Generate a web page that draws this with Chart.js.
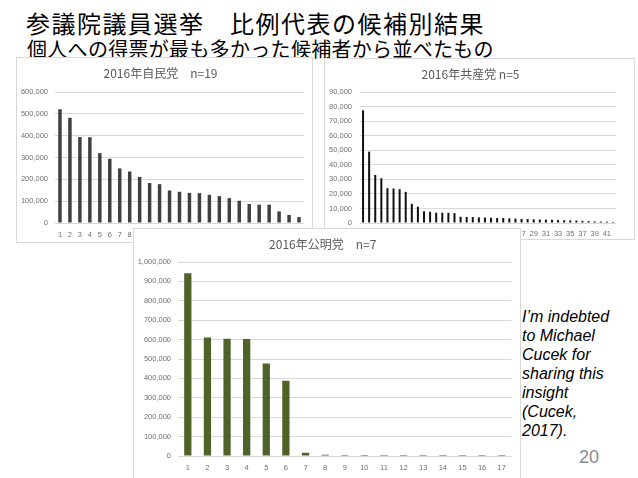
<!DOCTYPE html>
<html>
<head>
<meta charset="utf-8">
<script src="https://cdn.jsdelivr.net/npm/chart.js@4/dist/chart.umd.min.js"></script>
<style>
  html, body { margin: 0; padding: 0; background: #fff; }
  body { width: 638px; height: 478px; position: relative; overflow: hidden; }
  .t1 { position: absolute; left: 26px; top: 11px; font-family: "Noto Sans CJK JP", sans-serif; font-size: 24px; line-height: 24px; letter-spacing: 1.5px; color: #000; white-space: nowrap; }
  .t2 { position: absolute; left: 27px; top: 39px; font-family: "Noto Sans CJK JP", sans-serif; font-size: 20px; line-height: 20px; letter-spacing: 0.3px; color: #000; white-space: nowrap; }
  .box { position: absolute; background: #fff; border: 1px solid #d9d9d9; box-sizing: border-box; }
  .box canvas { display: block; }
  .note { position: absolute; left: 522px; top: 307px; font-family: "Liberation Sans", Arial, sans-serif; font-style: italic; font-size: 16px; line-height: 19px; color: #000; }
  .page { position: absolute; left: 579px; top: 448px; font-family: "Liberation Sans", Arial, sans-serif; font-size: 18px; line-height: 18px; color: #8a8a8a; }
</style>
</head>
<body>
<div class="t1">参議院議員選挙　比例代表の候補別結果</div>
<div class="t2">個人への得票が最も多かった候補者から並べたもの</div>

<div class="box" id="b1" style="left:16px; top:57px; width:297px; height:186px;"><canvas id="c1" width="295" height="184"></canvas></div>
<div class="box" id="b2" style="left:324px; top:58px; width:311px; height:182px;"><canvas id="c2" width="309" height="180"></canvas></div>
<div class="box" id="b3" style="left:133px; top:228px; width:388px; height:252px;"><canvas id="c3" width="386" height="250"></canvas></div>

<div class="note">I’m indebted<br>to Michael<br>Cucek for<br>sharing this<br>insight<br>(Cucek,<br>2017).</div>
<div class="page">20</div>

<script>
// ---- Data ----
const ldpTitle = "2016年自民党　n=19";
const ldpLabels = ["1","2","3","4","5","6","7","8","9","10","11","12","13","14","15","16","17","18","19","20","21","22","23","24","25"];
const ldpVotes = [521000, 482000, 394000, 393000, 320000, 294000, 250000, 236000, 211000, 183000, 178000, 149000, 143000, 138000, 137000, 129000, 123000, 114000, 102000, 87000, 84000, 84000, 53000, 37000, 27000];
const ldpTicks = { max: 600000, step: 100000 };

const jcpTitle = "2016年共産党 n=5";
const jcpLabels = ["1","2","3","4","5","6","7","8","9","10","11","12","13","14","15","16","17","18","19","20","21","22","23","24","25","26","27","28","29","30","31","32","33","34","35","36","37","38","39","40","41","42"];
const jcpVotes = [77400, 49000, 33000, 30700, 23900, 23700, 23200, 21400, 13200, 11200, 8000, 7700, 7100, 7100, 7000, 6800, 4300, 4200, 4100, 3900, 3700, 3600, 3400, 3400, 3200, 3000, 2800, 2700, 2500, 2400, 2300, 2200, 2000, 1900, 1800, 1700, 1500, 1300, 1100, 1000, 900, 600];
const jcpTicks = { max: 90000, step: 10000 };

const komeitoTitle = "2016年公明党　n=7";
const komeitoLabels = ["1","2","3","4","5","6","7","8","9","10","11","12","13","14","15","16","17"];
const komeitoVotes = [942000, 611000, 605000, 603000, 477000, 388000, 17000, 7000, 5000, 4000, 3000, 2000, 1500, 1200, 1000, 600, 300];
const komeitoTicks = { max: 1000000, step: 100000 };

// ---- Rendering ----
const tickFont = { family: "'Liberation Sans', Arial, sans-serif", size: 7.5 };
const tickColor = '#707070';
const gridColor = '#d9d9d9';

function makeChart(id, title, labels, values, ticksCfg, opts) {
  const ctx = document.getElementById(id).getContext('2d');
  return new Chart(ctx, {
    type: 'bar',
    data: {
      labels: labels,
      datasets: [{
        data: values,
        backgroundColor: opts.color,
        borderWidth: 0,
        barPercentage: opts.barPct,
        categoryPercentage: 1.0,
        minBarLength: 1
      }]
    },
    options: {
      responsive: false,
      animation: false,
      devicePixelRatio: 1,
      layout: { padding: { left: 0, right: opts.padRight, top: 0, bottom: 0 } },
      plugins: {
        legend: { display: false },
        tooltip: { enabled: false },
        title: {
          display: true,
          text: title,
          color: '#595959',
          font: { family: "'Noto Sans CJK JP', sans-serif", size: 12, weight: 'normal' },
          padding: { top: opts.titleTop, bottom: opts.titleBottom }
        }
      },
      scales: {
        x: {
          grid: { display: false, drawTicks: false },
          border: { display: false },
          ticks: {
            color: tickColor,
            font: tickFont,
            padding: opts.xPad,
            autoSkip: false,
            maxRotation: 0,
            minRotation: 0,
            callback: function (v, i) { return (i % opts.every === 0) ? this.getLabelForValue(v) : ''; }
          },
          afterFit: function (s) { s.height = opts.xHeight; }
        },
        y: {
          min: 0,
          max: ticksCfg.max,
          grid: { color: gridColor, lineWidth: 1, drawTicks: false },
          border: { display: false },
          ticks: {
            stepSize: ticksCfg.step,
            color: tickColor,
            font: tickFont,
            padding: opts.yPad,
            callback: function (v) { return v.toLocaleString('en-US'); }
          },
          afterFit: function (s) { s.width = opts.yWidth; }
        }
      }
    }
  });
}

makeChart('c1', ldpTitle, ldpLabels, ldpVotes, ldpTicks, {
  color: '#404040', barPct: 0.35, padRight: 8, yWidth: 38, yPad: 7,
  xHeight: 19, xPad: 7, every: 1, titleTop: 7.8, titleBottom: 11.8
});
makeChart('c2', jcpTitle, jcpLabels, jcpVotes, jcpTicks, {
  color: '#111111', barPct: 0.33, padRight: 18, yWidth: 35, yPad: 8,
  xHeight: 16, xPad: 6, every: 2, titleTop: 7.8, titleBottom: 10.8
});
makeChart('c3', komeitoTitle, komeitoLabels, komeitoVotes, komeitoTicks, {
  color: '#4f6228', barPct: 0.37, padRight: 8.5, yWidth: 44, yPad: 7,
  xHeight: 23, xPad: 7, every: 1, titleTop: 7.8, titleBottom: 10.8
});
</script>
</body>
</html>
